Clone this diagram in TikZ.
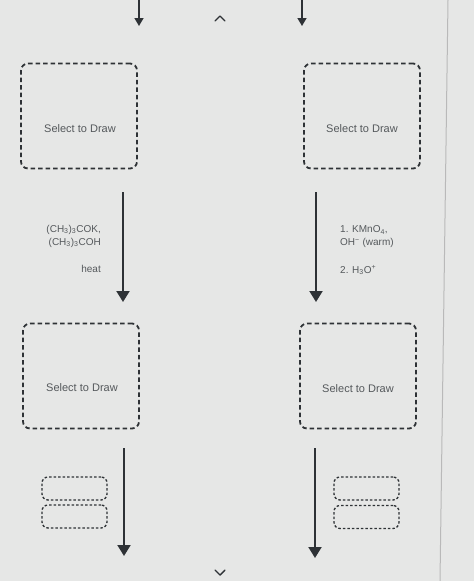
\documentclass[tikz,border=0pt]{standalone}
\usepackage{fontspec}
\setmainfont{Liberation Sans}
\usetikzlibrary{arrows.meta}
\definecolor{bg}{HTML}{E6E7E6}
\definecolor{ink}{HTML}{2E3236}
\definecolor{txt}{HTML}{55595C}
\tikzset{
  drawbox/.style={draw=ink, line width=1.8pt, dash pattern=on 4.5pt off 3pt, rounded corners=7pt, minimum width=116pt, minimum height=105pt, inner sep=0pt},
  boxtext/.style={font=\fontsize{11}{13}\selectfont, text=txt, inner sep=0pt},
  smallbox/.style={draw=ink, line width=1.3pt, dash pattern=on 2.5pt off 2pt, rounded corners=6pt, minimum width=65pt, minimum height=23pt, inner sep=0pt},
  rxn/.style={draw=ink, line width=2pt, -{Triangle[width=13pt,length=11pt]}},
  navarrow/.style={draw=ink, line width=1.5pt, -{Triangle[width=9pt,length=8pt]}},
  chev/.style={draw=ink, line width=1.4pt, line cap=round, line join=round},
  reag/.style={font=\fontsize{10}{13}\selectfont, text=txt, inner sep=0pt, align=left}
}
\begin{document}
\begin{tikzpicture}[x=1pt,y=-1pt]
\useasboundingbox (0,0) rectangle (474,581);
\fill[bg] (0,0) rectangle (474,581);
\draw[gray!55, line width=1pt] (448,0) -- (440,581);

% top navigation
\coordinate (t1a) at (139,0); \coordinate (t1b) at (139,26);
\coordinate (t2a) at (302,0); \coordinate (t2b) at (302,26);
\draw[navarrow] (t1a) -- (t1b);
\draw[navarrow] (t2a) -- (t2b);
\coordinate (ca) at (215,21); \coordinate (cb) at (220,16); \coordinate (cc) at (225,21);
\draw[chev] (ca) -- (cb) -- (cc);

% boxes
\node[drawbox] (b1) at (79,116) {};
\node[drawbox] (b2) at (362,116) {};
\node[drawbox] (b3) at (81,376) {};
\node[drawbox] (b4) at (358,376) {};
\node[boxtext] (l1) at (80,129) {Select to Draw};
\node[boxtext] (l2) at (362,129) {Select to Draw};
\node[boxtext] (l3) at (82,388) {Select to Draw};
\node[boxtext] (l4) at (358,389) {Select to Draw};

% reaction arrows
\coordinate (a1s) at (123,192); \coordinate (a1e) at (123,302);
\coordinate (a2s) at (316,192); \coordinate (a2e) at (316,302);
\draw[rxn] (a1s) -- (a1e);
\draw[rxn] (a2s) -- (a2e);

\node[reag, anchor=east, align=right] (r1) at (101,236) {(CH\textsubscript{3})\textsubscript{3}COK,\\(CH\textsubscript{3})\textsubscript{3}COH};
\node[reag, anchor=east] (r2) at (101,269) {heat};
\node[reag, anchor=west] (r3) at (340,237) {1. KMnO\textsubscript{4},\\OH\textsuperscript{−} (warm)};
\node[reag, anchor=west] (r4) at (340,270) {2. H\textsubscript{3}O\textsuperscript{+}};

% bottom arrows
\coordinate (a3s) at (124,448); \coordinate (a3e) at (124,556);
\coordinate (a4s) at (315,448); \coordinate (a4e) at (315,558);
\draw[rxn] (a3s) -- (a3e);
\draw[rxn] (a4s) -- (a4e);

% small answer boxes
\node[smallbox] (s1) at (74.5,488.5) {};
\node[smallbox] (s2) at (74.5,516.5) {};
\node[smallbox] (s3) at (366.5,488.5) {};
\node[smallbox] (s4) at (366.5,517) {};

% bottom chevron
\coordinate (va) at (215,570); \coordinate (vb) at (220,575); \coordinate (vc) at (225,570);
\draw[chev] (va) -- (vb) -- (vc);
\end{tikzpicture}
\end{document}
